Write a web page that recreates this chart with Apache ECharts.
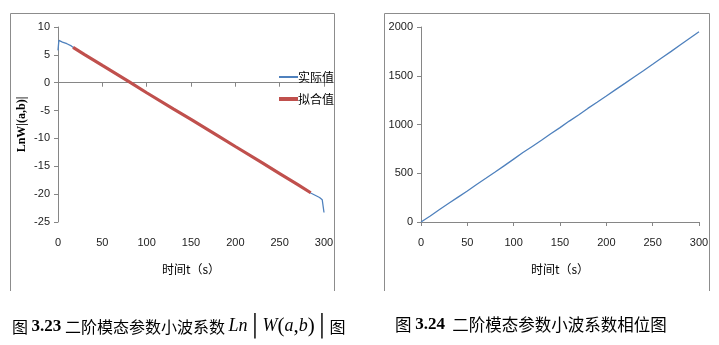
<!DOCTYPE html>
<html><head><meta charset="utf-8">
<script src="https://cdn.jsdelivr.net/npm/echarts@6/dist/echarts.min.js"></script>
<style>html,body{margin:0;padding:0;background:#fff}#c{width:719px;height:345px}</style>
</head><body><div id="c"></div>
<script>
// Left chart: Ln|W(a,b)| actual vs fitted
const actualT   = [0, 1, 5, 10, 15, 17, 20, 30, 40, 50, 60, 70, 80, 90, 100, 110, 120, 130, 140, 150, 160, 170, 180, 190, 200, 210, 220, 230, 240, 250, 260, 270, 280, 285, 290, 295, 298, 300];
const actualV   = [5.8, 7.6, 7.3, 7.0, 6.6, 6.4, 6.0, 5.0, 4.05, 3.1, 2.1, 1.15, 0.2, -0.8, -1.8, -2.75, -3.7, -4.7, -5.65, -6.6, -7.6, -8.55, -9.5, -10.5, -11.45, -12.4, -13.4, -14.35, -15.3, -16.3, -17.25, -18.2, -19.2, -19.8, -20.2, -20.6, -21.0, -23.3];
const fitT      = [17, 30, 50, 80, 100, 130, 150, 180, 200, 230, 250, 270, 285];
const fitV      = [6.35, 5.05, 3.1, 0.2, -1.8, -4.7, -6.6, -9.5, -11.45, -14.35, -16.3, -18.25, -19.75];
// Right chart: phase
const phaseT = [0, 10, 20, 30, 40, 50, 60, 70, 80, 90, 100, 110, 120, 130, 140, 150, 160, 170, 180, 190, 200, 210, 220, 230, 240, 250, 260, 270, 280, 290, 300];
const phaseV = [0, 62, 128, 192, 255, 318, 385, 448, 512, 578, 645, 712, 775, 838, 905, 968, 1035, 1098, 1165, 1228, 1292, 1358, 1422, 1488, 1552, 1618, 1685, 1750, 1818, 1885, 1952];
const seriesNames = ['实际值', '拟合值'];
const xName = '时间t（s）';
const yNameLeft = 'LnW|(a,b)|';

const pairs = (t, v) => t.map((x, i) => [x, v[i]]);
const axisGray = '#868686';
const lblStyle = {color: '#222', fontSize: 11, fontFamily: 'Liberation Sans, Arial, sans-serif', formatter: v => String(v)};
const xAxisCommon = {
  type: 'value', min: 0, max: 300, interval: 50,
  axisLine: {show: true, lineStyle: {color: axisGray}},
  axisTick: {show: true, inside: false, length: 4, lineStyle: {color: axisGray}},
  splitLine: {show: false},
  axisLabel: Object.assign({margin: 15}, lblStyle),
  name: xName, nameLocation: 'middle', nameGap: 41,
  nameTextStyle: {color: '#000', fontSize: 12, fontFamily: 'Noto Sans CJK SC'}
};

const chart = echarts.init(document.getElementById('c'), null, {renderer: 'canvas'});
chart.setOption({
  animation: false,
  backgroundColor: '#fff',
  grid: [
    {left: 58, top: 27, width: 266, height: 195},
    {left: 421, top: 27, width: 278, height: 195}
  ],
  xAxis: [
    Object.assign({gridIndex: 0}, xAxisCommon),
    Object.assign({gridIndex: 1}, xAxisCommon)
  ],
  yAxis: [
    {gridIndex: 0, type: 'value', min: -25, max: 10, interval: 5,
     axisLine: {show: true, lineStyle: {color: axisGray}},
     axisTick: {show: true, length: 4, lineStyle: {color: axisGray}},
     splitLine: {show: false},
     axisLabel: Object.assign({margin: 8}, lblStyle),
     name: yNameLeft, nameLocation: 'middle', nameGap: 30,
     nameTextStyle: {color: '#000', fontSize: 12, fontWeight: 'bold', fontFamily: 'Liberation Serif, serif'}},
    {gridIndex: 1, type: 'value', min: 0, max: 2000, interval: 500,
     axisLine: {show: true, lineStyle: {color: axisGray}},
     axisTick: {show: true, length: 4, lineStyle: {color: axisGray}},
     splitLine: {show: false},
     axisLabel: Object.assign({margin: 8}, lblStyle)}
  ],
  legend: [
    {orient: 'vertical', left: 279, top: 71, padding: 0, itemWidth: 19, itemHeight: 2, icon: 'rect', itemGap: 0,
     data: [seriesNames[0]], textStyle: {fontSize: 12, color: '#000', fontFamily: 'Noto Sans CJK SC', padding: [0,0,0,-5]}},
    {orient: 'vertical', left: 279, top: 93, padding: 0, itemWidth: 19, itemHeight: 4, icon: 'rect', itemGap: 0,
     data: [seriesNames[1]], textStyle: {fontSize: 12, color: '#000', fontFamily: 'Noto Sans CJK SC', padding: [0,0,0,-5]}}
  ],
  series: [
    {name: seriesNames[0], type: 'line', xAxisIndex: 0, yAxisIndex: 0, data: pairs(actualT, actualV),
     showSymbol: false, symbol: 'none', lineStyle: {color: '#4F81BD', width: 1.3}, itemStyle: {color: '#4F81BD'}, z: 2},
    {name: seriesNames[1], type: 'line', xAxisIndex: 0, yAxisIndex: 0, data: pairs(fitT, fitV),
     showSymbol: false, symbol: 'none', lineStyle: {color: '#C0504D', width: 3.2}, itemStyle: {color: '#C0504D'}, z: 3},
    {name: '相位', type: 'line', xAxisIndex: 1, yAxisIndex: 1, data: pairs(phaseT, phaseV),
     showSymbol: false, symbol: 'none', lineStyle: {color: '#4F81BD', width: 1.3}, itemStyle: {color: '#4F81BD'}}
  ],
  graphic: [
    {type: 'polyline', shape: {points: [[10.5, 291], [10.5, 13.5], [334.5, 13.5], [334.5, 291]]}, style: {stroke: '#8c8c8c', lineWidth: 1, fill: null}},
    {type: 'polyline', shape: {points: [[384.5, 291], [384.5, 13.5], [709.5, 13.5], [709.5, 291]]}, style: {stroke: '#8c8c8c', lineWidth: 1, fill: null}},
    {type: 'text', left: 12, top: 316, style: {
      text: '图 {b|3.23} 二阶模态参数小波系数 {i|Ln}{bar|│}{i|W}{p|(}{i|a}{p|,}{i|b}{p|)}{bar|│}图',
      fontSize: 16, fontFamily: 'Noto Sans CJK SC', fill: '#000',
      rich: {
        b: {fontWeight: 'bold', fontSize: 17, fontFamily: 'Liberation Serif, serif'},
        i: {fontStyle: 'italic', fontSize: 18, fontFamily: 'Liberation Serif, serif'},
        p: {fontSize: 21, fontFamily: 'Liberation Serif, serif'},
        bar: {fontSize: 21, fontFamily: 'Liberation Serif, serif'}
      }}},
    {type: 'text', left: 395, top: 316, style: {
      text: '图 {b|3.24}  二阶模态参数小波系数相位图',
      fontSize: 16.5, fontFamily: 'Noto Sans CJK SC', fill: '#000',
      rich: {b: {fontWeight: 'bold', fontSize: 17, fontFamily: 'Liberation Serif, serif'}}}}
  ]
});
</script></body></html>
